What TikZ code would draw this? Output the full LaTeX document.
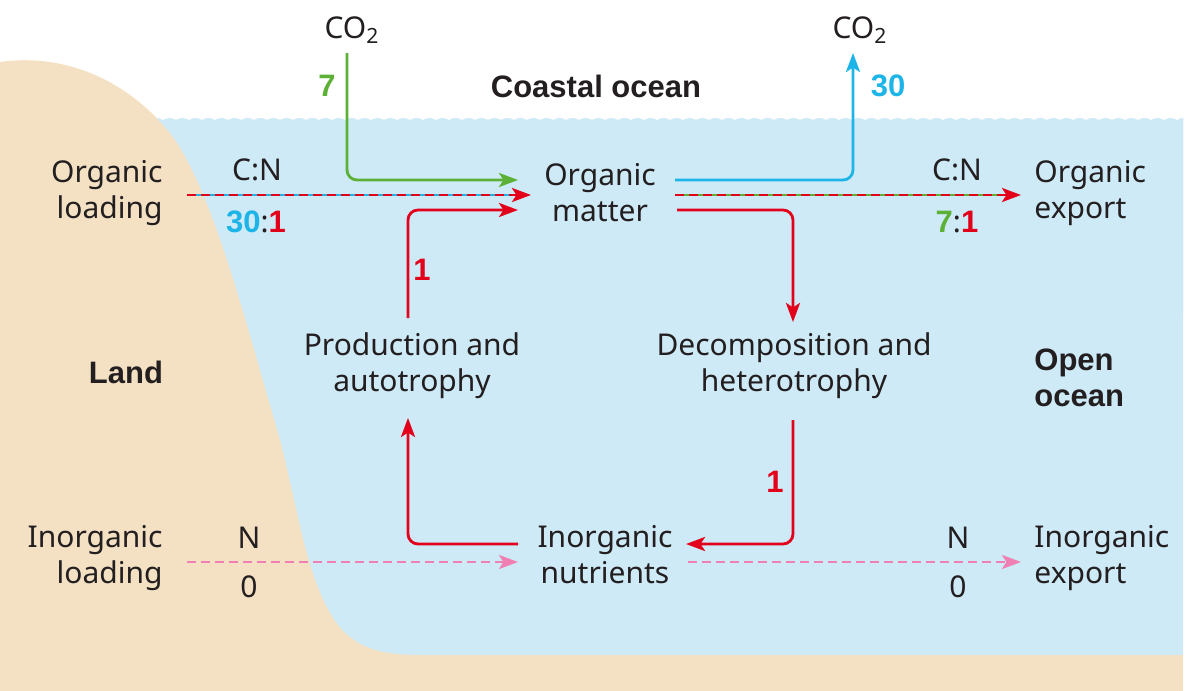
\documentclass[tikz,border=0pt]{standalone}
\usepackage{fontspec}
\setmainfont{Noto Sans}
\newfontfamily\boldfam{Liberation Sans}
\usetikzlibrary{arrows.meta}
\definecolor{beige}{HTML}{F4E1C4}
\definecolor{sea}{HTML}{CEEAF7}
\definecolor{cred}{HTML}{E2001A}
\definecolor{cgreen}{HTML}{5BB035}
\definecolor{ccyan}{HTML}{1DB4E8}
\definecolor{cpink}{HTML}{F07FB4}
\definecolor{ink}{HTML}{231F20}
\newcommand{\bnum}[1]{{\boldfam\bfseries\fontsize{15.5}{18}\selectfont #1}}
\begin{document}
\begin{tikzpicture}[x=0.5pt,y=-0.5pt,
  txt/.style={font=\fontsize{15}{18}\selectfont, text=ink, inner sep=0pt, align=center},
  bld/.style={font=\boldfam\bfseries\fontsize{15.5}{18}\selectfont, text=ink, inner sep=0pt, align=center},
  num/.style={font=\boldfam\bfseries\fontsize{15.5}{18}\selectfont, inner sep=0pt},
  tip/.style={-{Stealth[length=9.5pt,width=7pt,inset=2.2pt]}},
  flow/.style={line width=1.4pt, rounded corners=5pt, tip},
  dashedflow/.style={line width=1.4pt, dash pattern=on 4.5pt off 2.5pt, tip},
  under/.style={line width=1.4pt}]
\useasboundingbox (0,0) rectangle (1200,691);
% sea with wavy surface
\fill[sea] (150,655) -- plot[domain=0:79.5, samples=800] ({150+13*\x},{120-2*abs(sin(\x*180))}) -- (1183,655) -- cycle;
% land
\fill[beige] (0,691) -- (0,62) .. controls (70,52) and (135,85) .. (175,140)
  .. controls (215,200) and (245,320) .. (280,440)
  .. controls (298,510) and (306,575) .. (333,618)
  .. controls (352,648) and (380,655) .. (420,655) -- (1183,655) -- (1183,691) -- cycle;

% text nodes
\node[txt] (co2L) at (352,30) {CO\textsubscript{2}};
\node[txt] (co2R) at (860,30) {CO\textsubscript{2}};
\node[bld] (coastal) at (596,86) {Coastal ocean};
\node[txt, anchor=east, align=right] (orgload) at (163,193) {Organic\\loading};
\node[txt] (om) at (600,193) {Organic\\matter};
\node[txt, anchor=west, align=left] (orgexp) at (1034,193) {Organic\\export};
\node[txt] (prod) at (412,366) {Production and\\autotrophy};
\node[txt] (decomp) at (794,366) {Decomposition and\\heterotrophy};
\node[bld] (land) at (126,372) {Land};
\node[bld, anchor=west, align=left] (open) at (1034,378) {Open\\ocean};
\node[txt, anchor=east, align=right] (inload) at (163,558) {Inorganic\\loading};
\node[txt] (inut) at (605,555) {Inorganic\\nutrients};
\node[txt, anchor=west, align=left] (inexp) at (1034,558) {Inorganic\\export};

% small labels
\node[txt] (cn1) at (257,170) {C:N};
\node[txt] (r1) at (256,222) {{\color{ccyan}\bnum{30}}:{\color{cred}\bnum{1}}};
\node[txt] (cn2) at (957,170) {C:N};
\node[txt] (r2) at (957,222) {{\color{cgreen}\bnum{7}}:{\color{cred}\bnum{1}}};
\node[txt] (n1) at (249,538) {N};
\node[txt] (z1) at (249,587) {0};
\node[txt] (n2) at (958,538) {N};
\node[txt] (z2) at (958,587) {0};
\node[num, text=cgreen] (g7) at (327,86) {7};
\node[num, text=ccyan] (c30) at (888,86) {30};
\node[num, text=cred] (one1) at (422,270) {1};
\node[num, text=cred] (one2) at (775,482) {1};

% connector end points
\coordinate (gS) at (347,53);
\coordinate (omG) at (518,180);
\coordinate (olS) at (187,195);
\coordinate (omD) at (531,195);
\coordinate (omR) at (518,210);
\coordinate (omC) at (675,180);
\coordinate (cT) at (853,53);
\coordinate (omE) at (675,195);
\coordinate (oeD) at (1021,195);
\coordinate (omX) at (677,210);
\coordinate (decT) at (793,322);
\coordinate (decB) at (793,420);
\coordinate (inR) at (686,544);
\coordinate (inL) at (518,544);
\coordinate (prB) at (408,418);
\coordinate (prT) at (408,318);
\coordinate (ilS) at (187,562);
\coordinate (inP) at (518,562);
\coordinate (inQ) at (688,562);
\coordinate (ieP) at (1021,562);

% carbon fluxes
\draw[flow, cgreen] (gS) |- (omG);
\draw[flow, ccyan] (omC) -| (cT);
% organic loading (C and N)
\draw[under, ccyan] (olS) -- ([xshift=-5pt]omD);
\draw[dashedflow, cred] (olS) -- (omD);
% organic export
\draw[under, cgreen] (omE) -- ([xshift=-5pt]oeD);
\draw[dashedflow, cred] (omE) -- (oeD);
% nitrogen cycle
\draw[flow, cred] (omX) -| (decT);
\draw[flow, cred] (decB) |- (inR);
\draw[flow, cred] (inL) -| (prB);
\draw[flow, cred] (prT) |- (omR);
% inorganic loading / export
\draw[dashedflow, cpink] (ilS) -- (inP);
\draw[dashedflow, cpink] (inQ) -- (ieP);
\end{tikzpicture}
\end{document}
